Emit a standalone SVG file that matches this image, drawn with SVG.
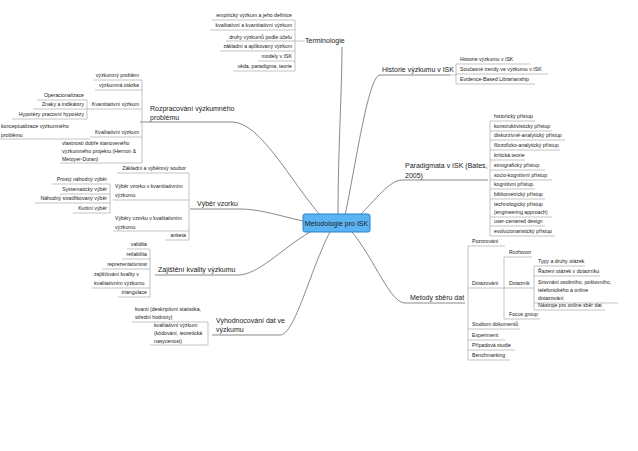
<svg xmlns="http://www.w3.org/2000/svg" width="638" height="451" viewBox="0 0 638 451">
<style>
text{font-family:"Liberation Sans",Arial,sans-serif;fill:#222}
.l{font-size:5.2px}
.b{font-size:7px}
.r{text-anchor:end}
.u{stroke:#aaa;stroke-width:0.7;fill:none}
.c{stroke:#888;stroke-width:1;fill:none}
</style>
<rect width="638" height="451" fill="#fff"/>
<g id="connectors">
<path class="c" d="M338 215 C338 150 342 90 342 47"/>
<path class="c" d="M320 215 C290 180 260 122 232 122 L140 122"/>
<path class="c" d="M303 221 C280 216 260 209 240 209 L190 209"/>
<path class="c" d="M310 232 C280 250 258 275 238 275 L155 275"/>
<path class="c" d="M330 232 C310 270 295 335 280 335 L212 335"/>
<path class="c" d="M345 215 C355 170 368 75 380 75 L450 75"/>
<path class="c" d="M360 215 C375 200 390 180 402 180 L488 180"/>
<path class="c" d="M352 232 C375 260 390 303 405 303 L465 303"/>
</g>
<g id="center"><rect x="303" y="214" width="67" height="18" rx="2" fill="#5ab4f4" stroke="#2a7fc9"/><text x="336.5" y="225.5" class="b" text-anchor="middle">Metodologie pro ISK</text></g>
<g id="terminologie">
<text x="305" y="43" class="b">Terminologie</text>
<path class="u" d="M295 20V71 M295 41H305 M212 20H295 M210 30H295 M226 41H295 M220 51H295 M258 61H295 M233 71H295"/>
<text class="l r" x="292" y="17">empirický výzkum a jeho definice</text>
<text class="l r" x="292" y="27">kvalitativní a kvantitativní výzkum</text>
<text class="l r" x="292" y="39">druhy výzkumů podle účelu</text>
<text class="l r" x="292" y="48">základní a aplikovaný výzkum</text>
<text class="l r" x="292" y="58">modely v ISK</text>
<text class="l r" x="292" y="68">věda, paradigma, teorie</text>
</g>
<g id="rozpracovani">
<text x="150" y="111" class="b">Rozpracování výzkumného</text><text x="150" y="120" class="b">problému</text>
<path class="u" d="M142 80V163 M93 80H142 M95 90H142 M87 109H142 M90 137H142 M60 163H142 M87 100V119 M37 100H87 M33 109H87 M12 119H87 M0 139H90"/>
<text class="l r" x="139" y="77">výzkumný problém</text>
<text class="l r" x="139" y="87">výzkumná otázka</text>
<text class="l r" x="139" y="106">Kvantitativní výzkum</text>
<text class="l r" x="139" y="134">Kvalitativní výzkum</text>
<text class="l" x="62" y="145">vlastnosti dobře stanoveného</text><text class="l" x="62" y="153">výzkumného projektu (Hernon &amp;</text><text class="l" x="62" y="161">Metoyer-Duran)</text>
<text class="l r" x="84" y="97">Operacionalizace</text>
<text class="l r" x="84" y="106">Znaky a indikátory</text>
<text class="l r" x="84" y="116">Hypotézy pracovní hypotézy</text>
<text class="l" x="1" y="128">konceptualizace výzkumného</text><text class="l" x="1" y="137">problému</text>
</g>
<g id="vyber">
<text x="197" y="206" class="b">Výběr vzorku</text>
<path class="u" d="M189 173V240 M117 173H189 M113 200H189 M113 231H189 M165 240H189 M110 184V213 M52 184H110 M60 194H110 M35 203H110 M73 213H110"/>
<text class="l r" x="186" y="170">Základní a výběrový soubor</text>
<text class="l" x="115" y="188">Výběr vzorku v kvantitativním</text><text class="l" x="115" y="197">výzkumu</text>
<text class="l" x="115" y="220">Výběry vzorku v kvalitativním</text><text class="l" x="115" y="229">výzkumu</text>
<text class="l r" x="186" y="237">anketa</text>
<text class="l r" x="107" y="181">Prostý náhodný výběr</text>
<text class="l r" x="107" y="191">Systematický výběr</text>
<text class="l r" x="107" y="200">Náhodný stratifikovaný výběr</text>
<text class="l r" x="107" y="210">Kvótní výběr</text>
</g>
<g id="kvalita">
<text x="158" y="272" class="b">Zajištění kvality výzkumu</text>
<path class="u" d="M150 249V297 M127 249H150 M122 259H150 M102 269H150 M92 288H150 M118 297H150"/>
<text class="l r" x="147" y="246">validita</text>
<text class="l r" x="147" y="256">reliabilita</text>
<text class="l r" x="147" y="266">reprezentativnost</text>
<text class="l" x="94" y="276">zajišťování kvality v</text><text class="l" x="94" y="285">kvalitativním výzkumu</text>
<text class="l r" x="147" y="294">triangulace</text>
</g>
<g id="vyhodnocovani">
<text x="216" y="323" class="b">Vyhodnocování dat ve</text><text x="216" y="332" class="b">výzkumu</text>
<path class="u" d="M208 322V345 M132 322H208 M150 345H208"/>
<text class="l" x="135" y="311">kvanti (deskriptivní statistika,</text><text class="l" x="135" y="319">střední hodnoty)</text>
<text class="l" x="154" y="327">kvalitativní výzkum</text><text class="l" x="154" y="335">(kódování, teoretická</text><text class="l" x="154" y="343">nasycenost)</text>
</g>
<g id="historie">
<text x="382" y="72" class="b">Historie výzkumu v ISK</text>
<path class="u" d="M456 64V84 M450 75H456 M456 64H530 M456 74H548 M456 84H535"/>
<text class="l" x="460" y="61">Historie výzkumu v ISK</text>
<text class="l" x="460" y="71">Současné trendy ve výzkumu v ISK</text>
<text class="l" x="460" y="81">Evidence-Based Librarianship</text>
</g>
<g id="paradigmata">
<text x="405" y="168" class="b">Paradigmata v ISK (Bates,</text><text x="405" y="178" class="b">2005)</text>
<path class="u" d="M490 121V236 M490 121H535 M490 131H552 M490 140H565 M490 150H560 M490 160H525 M490 170H545 M490 180H552 M490 189H535 M490 199H545 M490 217H552 M490 226H545 M490 236H555"/>
<text class="l" x="494" y="118">historický přístup</text>
<text class="l" x="494" y="128">konstruktivistický přístup</text>
<text class="l" x="494" y="137">diskurzivně-analytický přístup</text>
<text class="l" x="494" y="147">filozoficko-analytický přístup</text>
<text class="l" x="494" y="157">kritická teorie</text>
<text class="l" x="494" y="167">etnografický přístup</text>
<text class="l" x="494" y="177">socio-kognitivní přístup</text>
<text class="l" x="494" y="186">kognitivní přístup</text>
<text class="l" x="494" y="196">bibliometrický přístup</text>
<text class="l" x="494" y="206">technologický přístup</text><text class="l" x="494" y="214">(engineering approach)</text>
<text class="l" x="494" y="223">user-centered design</text>
<text class="l" x="494" y="233">evolucionaristický přístup</text>
</g>
<g id="metody">
<text x="410" y="300" class="b">Metody sběru dat</text>
<path class="u" d="M468 246V360 M468 246H505 M468 288H505 M468 329H520 M468 340H505 M468 350H515 M468 360H510 M504 257V319 M504 257H532 M504 288H534 M504 319H540 M534 266V310 M534 266H585 M534 276H600 M534 303H618 M534 310H605"/>
<text class="l" x="472" y="243">Pozorování</text>
<text class="l" x="472" y="285">Dotazování</text>
<text class="l" x="472" y="326">Studium dokumentů</text>
<text class="l" x="472" y="337">Experiment</text>
<text class="l" x="472" y="347">Případová studie</text>
<text class="l" x="472" y="357">Benchmarking</text>
<text class="l" x="509" y="254">Rozhovor</text>
<text class="l" x="509" y="285">Dotazník</text>
<text class="l" x="509" y="316">Focus group</text>
<text class="l" x="538" y="263">Typy a druhy otázek</text>
<text class="l" x="538" y="273">Řazení otázek v dotazníku</text>
<text class="l" x="538" y="284">Srovnání osobního, poštovního,</text><text class="l" x="538" y="292">telefonického a online</text><text class="l" x="538" y="300">dotazování</text>
<text class="l" x="538" y="307">Nástroje pro online sběr dat</text>
</g>
</svg>
